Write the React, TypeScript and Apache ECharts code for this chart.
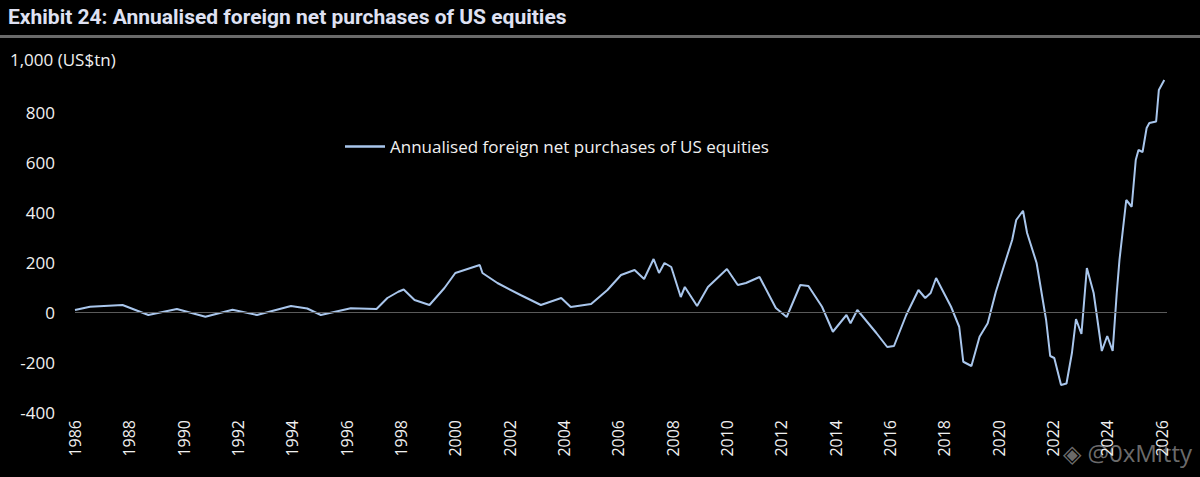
import { useEffect, useRef } from 'react';
import * as echarts from 'echarts';

const YEARS = [1986.0, 1986.55, 1987.75, 1988.7, 1989.75, 1990.8, 1991.8, 1992.7, 1993.95, 1994.55, 1995.05, 1996.15, 1997.1, 1997.5, 1997.9, 1998.1, 1998.5, 1999.05, 1999.6, 2000.0, 2000.9, 2001.0, 2001.55, 2002.4, 2003.15, 2003.9, 2004.25, 2005.0, 2005.6, 2006.1, 2006.6, 2006.95, 2007.3, 2007.5, 2007.7, 2007.95, 2008.3, 2008.45, 2008.9, 2009.3, 2010.0, 2010.4, 2010.7, 2011.2, 2011.8, 2012.2, 2012.7, 2013.0, 2013.5, 2013.9, 2014.4, 2014.55, 2014.8, 2015.5, 2015.9, 2016.15, 2016.6, 2017.05, 2017.3, 2017.5, 2017.7, 2018.25, 2018.55, 2018.7, 2019.0, 2019.3, 2019.6, 2019.9, 2020.15, 2020.5, 2020.65, 2020.9, 2021.05, 2021.4, 2021.75, 2021.9, 2022.05, 2022.3, 2022.5, 2022.7, 2022.85, 2023.05, 2023.25, 2023.5, 2023.8, 2024.0, 2024.2, 2024.35, 2024.45, 2024.7, 2024.9, 2025.05, 2025.15, 2025.3, 2025.45, 2025.55, 2025.8, 2025.9, 2026.1];
const VALUES = [8, 21, 28, -12, 12, -19, 9, -12, 24, 14, -12, 15, 12, 56, 81, 90, 48, 28, 96, 156, 188, 156, 116, 68, 28, 56, 20, 32, 88, 148, 168, 132, 212, 156, 196, 180, 60, 100, 24, 100, 172, 108, 116, 140, 16, -20, 108, 104, 21, -79, -12, -45, 8, -84, -140, -136, -12, 88, 56, 76, 136, 21, -59, -199, -216, -99, -45, 81, 168, 288, 368, 405, 316, 196, -32, -176, -184, -292, -286, -164, -28, -88, 176, 76, -156, -96, -156, 76, 208, 448, 421, 608, 648, 640, 736, 756, 762, 888, 928];
const SERIES_NAME = 'Annualised foreign net purchases of US equities';
const TITLE = 'Exhibit 24: Annualised foreign net purchases of US equities';

export default function App() {
  const ref = useRef<HTMLDivElement>(null);

  useEffect(() => {
    document.body.style.margin = '0';
    document.body.style.background = '#000';
    if (!ref.current) return;
    const chart = echarts.init(ref.current, null, { renderer: 'svg' });
    const font = '"Open Sans", "Noto Sans", sans-serif';
    chart.setOption({
      animation: false,
      backgroundColor: '#000000',
      textStyle: { fontFamily: font },
      grid: { left: 75, right: 33, top: 62, bottom: 65 },
      legend: {
        data: [SERIES_NAME],
        left: 340,
        top: 133,
        icon: 'path://M0,0 H30 V2 H0 Z',
        itemWidth: 40,
        itemHeight: 3,
        textStyle: { color: '#f0f0f0', fontSize: 17, fontFamily: font },
      },
      xAxis: {
        type: 'value',
        min: 1986,
        max: 2026.2,
        interval: 2,
        splitLine: { show: false },
        axisLine: { show: false },
        axisTick: { show: false },
        axisLabel: {
          color: '#f0f0f0',
          fontSize: 16,
          rotate: 90,
          margin: 8,
          showMaxLabel: false,
          formatter: (v: number) => String(v),
        },
      },
      yAxis: {
        type: 'value',
        min: -400,
        max: 1000,
        interval: 200,
        splitLine: { show: false },
        axisLine: { show: false },
        axisTick: { show: false },
        axisLabel: {
          color: '#f0f0f0',
          fontSize: 17,
          margin: 20,
          formatter: (v: number) => (v === 1000 ? '' : String(v)),
        },
      },
      graphic: [
        {
          type: 'text',
          left: 8,
          top: 6,
          style: { text: TITLE, fill: '#dfe1f2', font: `bold 21px Roboto, sans-serif` },
        },
        {
          type: 'rect',
          shape: { x: 0, y: 35, width: 1200, height: 3 },
          style: { fill: '#6a6a6a' },
        },
        {
          type: 'text',
          left: 10,
          top: 51,
          style: { text: '1,000 (US$tn)', fill: '#f0f0f0', font: `17px ${font}` },
        },
        {
          type: 'text',
          right: 8,
          top: 440,
          style: { text: '◈ @0xMitty', fill: 'rgba(200,200,200,0.55)', font: `24px ${font}` },
        },
      ],
      series: [
        {
          name: SERIES_NAME,
          type: 'line',
          data: YEARS.map((y, i) => [y, VALUES[i]]),
          showSymbol: false,
          lineStyle: { color: '#a9c6ec', width: 2 },
          itemStyle: { color: '#a9c6ec' },
          markLine: {
            silent: true,
            symbol: 'none',
            label: { show: false },
            lineStyle: { color: '#5a5a5a', type: 'solid', width: 1 },
            data: [{ yAxis: 0 }],
          },
        },
      ],
    });
    return () => chart.dispose();
  }, []);

  return <div ref={ref} style={{ width: 1200, height: 477 }} />;
}
